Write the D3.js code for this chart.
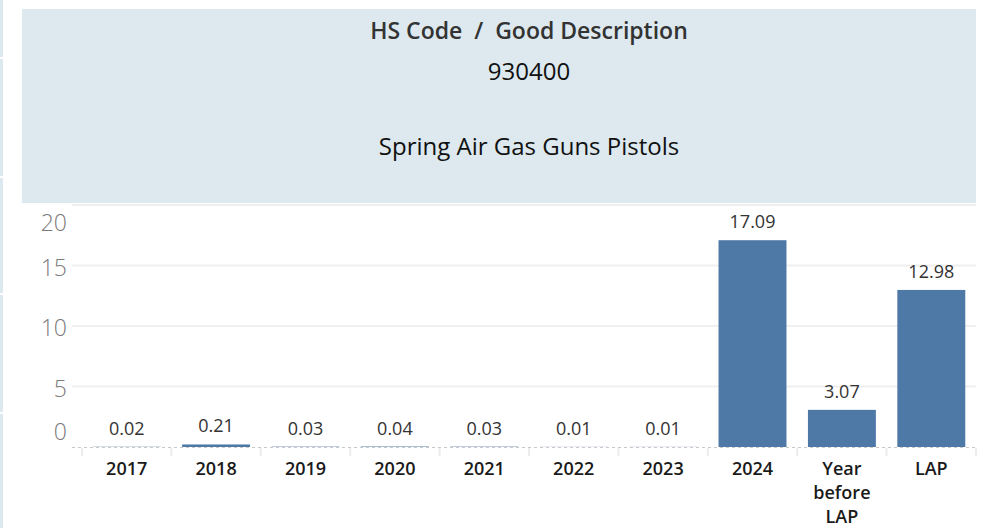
<!DOCTYPE html>
<html>
<head>
<meta charset="utf-8">
<script src="https://cdn.jsdelivr.net/npm/d3@7"></script>
<style>
    body { margin: 0; background: #fff; }
    svg { display: block; font-family: "Open Sans", "Noto Sans", sans-serif; }
</style>
</head>
<body>
<svg id="chart"></svg>
<script>
// data
const categories = ["2017", "2018", "2019", "2020", "2021", "2022", "2023", "2024", "Year before LAP", "LAP"];
const values = [0.02, 0.21, 0.03, 0.04, 0.03, 0.01, 0.01, 17.09, 3.07, 12.98];
const yTicks = [0, 5, 10, 15, 20];
const titleLines = ["930400", "", "Spring Air Gas Guns Pistols"];

const width = 986, height = 528;
const svg = d3.select("#chart").attr("width", width).attr("height", height);

// left dashboard strip
const strips = [[0, 57], [59, 176], [178, 293], [295, 412], [414, 528]];
svg.selectAll("rect.strip")
    .data(strips)
    .enter()
    .append("rect")
    .attr("class", "strip")
    .attr("x", 0)
    .attr("y", d => d[0])
    .attr("width", 3)
    .attr("height", d => d[1] - d[0])
    .attr("fill", "#dde9ef");

// header panel
svg.append("rect")
    .attr("x", 22).attr("y", 9)
    .attr("width", 954).attr("height", 194)
    .attr("fill", "#dde9ef");

const cx = 529;
svg.append("text")
    .attr("x", cx).attr("y", 39)
    .attr("text-anchor", "middle")
    .attr("font-size", "23px")
    .attr("font-weight", 600)
    .attr("fill", "#333")
    .attr("xml:space", "preserve")
    .text("HS Code  /  Good Description");

svg.append("g")
    .selectAll("text")
    .data(titleLines)
    .enter()
    .append("text")
    .attr("x", cx)
    .attr("y", (d, i) => 80 + i * 37.5)
    .attr("text-anchor", "middle")
    .attr("font-size", "24px")
    .attr("fill", "#111")
    .text(d => d);

// chart area
const plotLeft = 82, plotRight = 976, plotTop = 205, plotBottom = 447;

const x = d3.scaleBand()
    .domain(categories)
    .range([plotLeft, plotRight])
    .paddingInner(0.24)
    .paddingOuter(0.12);

const y = d3.scaleLinear()
    .domain([0, 20])
    .range([plotBottom, plotTop]);

// gridlines
svg.append("g")
    .selectAll("line")
    .data(yTicks.filter(t => t > 0))
    .enter()
    .append("line")
    .attr("x1", 72).attr("x2", plotRight)
    .attr("y1", d => y(d)).attr("y2", d => y(d))
    .attr("stroke", "#efefef")
    .attr("stroke-width", 2);

// y labels (tableau nudges the end labels inward)
svg.append("g")
    .selectAll("text")
    .data(yTicks)
    .enter()
    .append("text")
    .attr("x", 67)
    .attr("y", d => y(d) + (d === 0 ? -15 : d === 20 ? 18 : 2))
    .attr("dy", "0.35em")
    .attr("text-anchor", "end")
    .attr("font-size", "23px")
    .attr("font-weight", 300)
    .attr("fill", "#7a7a7a")
    .text(d => d);

// bars
svg.append("g")
    .selectAll("rect")
    .data(values)
    .enter()
    .append("rect")
    .attr("x", (d, i) => x(categories[i]))
    .attr("y", d => y(d))
    .attr("width", x.bandwidth())
    .attr("height", d => plotBottom - y(d))
    .attr("fill", "#4e79a7");

// baseline and category dividers
svg.append("line")
    .attr("x1", 72).attr("x2", plotRight)
    .attr("y1", plotBottom + 0.5).attr("y2", plotBottom + 0.5)
    .attr("stroke", "#c8c8c8")
    .attr("stroke-dasharray", "3,3");

const colW = (plotRight - plotLeft) / categories.length;
svg.append("g")
    .selectAll("line")
    .data(d3.range(categories.length + 1))
    .enter()
    .append("line")
    .attr("x1", i => plotLeft + i * colW)
    .attr("x2", i => plotLeft + i * colW)
    .attr("y1", plotBottom + 1).attr("y2", plotBottom + 9)
    .attr("stroke", "#ececec")
    .attr("stroke-width", 2);

// value labels
svg.append("g")
    .selectAll("text")
    .data(values)
    .enter()
    .append("text")
    .attr("x", (d, i) => x(categories[i]) + x.bandwidth() / 2)
    .attr("y", d => y(d) - 12)
    .attr("text-anchor", "middle")
    .attr("font-size", "18px")
    .attr("fill", "#333")
    .text(d => d.toFixed(2));

// category labels, wrapped like the original
const wrapped = { "Year before LAP": ["Year", "before", "LAP"] };
const catText = svg.append("g")
    .selectAll("text")
    .data(categories)
    .enter()
    .append("text")
    .attr("text-anchor", "middle")
    .attr("font-size", "18px")
    .attr("font-weight", 600)
    .attr("fill", "#1a1a1a");

catText.selectAll("tspan")
    .data(d => (wrapped[d] || [d]).map(t => ({ t, c: d })))
    .enter()
    .append("tspan")
    .attr("x", d => x(d.c) + x.bandwidth() / 2)
    .attr("y", (d, i) => 475 + i * 24)
    .text(d => d.t);
</script>
</body>
</html>
